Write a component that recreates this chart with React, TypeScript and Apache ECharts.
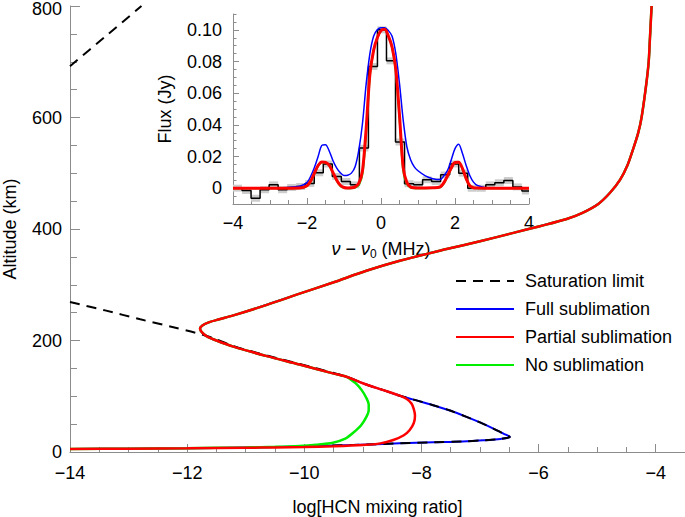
import { useEffect, useRef } from "react";
import * as echarts from "echarts";

const FONT = '"Liberation Sans", Arial, Helvetica, sans-serif';

// ---- main panel: [log HCN mixing ratio, altitude km] ----
const MAIN_X_TICKS = [-14, -12, -10, -8, -6, -4];
const MAIN_Y_TICKS = [0, 200, 400, 600, 800];

// part shared by all three profiles, from the junction at ~135 km upward
const SHARED_UPPER = [
    [-9.28, 135], [-9.51, 141], [-10.08, 157], [-10.64, 172], [-11.21, 189], [-11.5, 200],
    [-11.67, 208], [-11.75, 215], [-11.78, 221], [-11.74, 227], [-11.62, 233], [-11.45, 238],
    [-11.21, 245], [-10.64, 264], [-10.08, 284], [-9.51, 304], [-8.94, 325], [-8.37, 343],
    [-7.57, 364], [-7.0, 378], [-6.43, 393], [-5.98, 405], [-5.52, 418], [-5.25, 429],
    [-4.98, 445], [-4.78, 465], [-4.61, 488], [-4.48, 515], [-4.39, 542], [-4.3, 572],
    [-4.24, 601], [-4.16, 661], [-4.12, 700], [-4.1, 739], [-4.08, 780], [-4.07, 800],
];

const FULL_LOWER = [
    [-14, 5.4], [-13, 6], [-12, 6.8], [-11, 8], [-10, 9.8], [-9.17, 12.6], [-8.37, 15.6],
    [-7.8, 17.5], [-7.3, 19], [-6.95, 21], [-6.65, 23.5], [-6.49, 27], [-6.6, 33],
    [-6.78, 42.5], [-7.0, 53], [-7.23, 63], [-7.5, 74], [-7.8, 84], [-8.1, 93], [-8.37, 101],
    [-8.65, 111], [-8.94, 121],
];

const PARTIAL_LOWER = [
    [-14, 5.4], [-13, 6], [-12, 6.6], [-11, 7.6], [-10.5, 8.2], [-10, 9], [-9.5, 10.3],
    [-9.0, 12.5], [-8.7, 15.5], [-8.48, 21.5], [-8.3, 30], [-8.2, 39.5], [-8.13, 52],
    [-8.11, 65], [-8.13, 77], [-8.17, 87], [-8.25, 95], [-8.37, 101], [-8.65, 111], [-8.94, 121],
];

const NONE_LOWER = [
    [-14, 5.4], [-13, 6], [-12, 6.8], [-11, 8.2], [-10.5, 9.2], [-10.08, 10.8], [-9.8, 13],
    [-9.51, 16.7], [-9.3, 24], [-9.17, 34], [-9.03, 48], [-8.94, 63], [-8.9, 75], [-8.9, 85],
    [-8.94, 97], [-9.02, 111], [-9.12, 123], [-9.22, 131],
];

const SAT_LOW = [
    [-14, 269], [-13.4, 254], [-12.8, 238], [-12.2, 223], [-11.86, 214], [-11.6, 206],
    [-11.21, 190], [-10.64, 173], [-10.08, 158], [-9.51, 142], [-9.28, 135], [-8.94, 121],
    [-8.65, 111], [-8.37, 101], [-8.1, 93], [-7.8, 84], [-7.5, 74], [-7.23, 63], [-7.0, 53],
    [-6.78, 42.5], [-6.6, 33], [-6.49, 27], [-6.65, 23.5], [-6.95, 21], [-7.3, 19],
    [-7.8, 17.5], [-8.37, 15.6], [-9.17, 12.6], [-9.6, 11.2],
];
const SAT_HIGH = [[-14, 692], [-13.4, 745], [-12.78, 800]];

// ---- inset: spectrum ----
const INSET_X_TICKS = [-4, -2, 0, 2, 4];
const INSET_Y_TICKS = [0, 0.02, 0.04, 0.06, 0.08, 0.1];

const NU = [
    -4, -3.5, -3, -2.5, -2.2, -2, -1.9, -1.8, -1.7, -1.6, -1.5, -1.4, -1.3, -1.2, -1.1, -1,
    -0.9, -0.8, -0.7, -0.6, -0.5, -0.4, -0.3, -0.2, -0.1, 0, 0.1, 0.2, 0.3, 0.4, 0.5, 0.6,
    0.7, 0.8, 0.9, 1, 1.2, 1.4, 1.6, 1.7, 1.8, 1.9, 2, 2.1, 2.2, 2.3, 2.4, 2.5, 2.6, 2.8,
    3, 3.5, 4,
];
const MODEL_FULL = [
    0, 0, 0.0002, 0.0005, 0.0012, 0.0035, 0.0075, 0.013, 0.02, 0.027, 0.0275, 0.0235,
    0.0175, 0.0128, 0.0097, 0.008, 0.0082, 0.0095, 0.0135, 0.024, 0.041, 0.066, 0.085,
    0.096, 0.1, 0.1013, 0.1013, 0.0995, 0.096, 0.085, 0.066, 0.043, 0.026, 0.018, 0.0135,
    0.011, 0.0078, 0.006, 0.0054, 0.0078, 0.0112, 0.018, 0.025, 0.0278, 0.022, 0.0145,
    0.008, 0.0038, 0.0018, 0.0005, 0.0002, 0, 0,
];
const MODEL_PARTIAL = [
    0, 0, 0, 0, 0.0001, 0.0015, 0.0045, 0.0095, 0.0143, 0.0166, 0.0163, 0.0145, 0.01,
    0.0052, 0.0018, 0.0004, 0.0001, 0.0002, 0.0008, 0.003, 0.011, 0.038, 0.072, 0.087,
    0.095, 0.0995, 0.1003, 0.096, 0.089, 0.075, 0.046, 0.013, 0.0035, 0.0008, 0.0002,
    0.0001, 0.0001, 0.0002, 0.0008, 0.0035, 0.008, 0.0128, 0.0162, 0.0163, 0.0125, 0.0062,
    0.0015, 0.0003, 0.0001, 0, 0, 0, 0,
];
const MODEL_NONE = [
    0, 0, 0, 0, 0.0001, 0.0013, 0.0042, 0.0092, 0.014, 0.0164, 0.0162, 0.0143, 0.0097,
    0.0048, 0.0014, 0.0002, 0, 0, 0.0004, 0.002, 0.009, 0.036, 0.071, 0.087, 0.095,
    0.0995, 0.1003, 0.096, 0.089, 0.074, 0.044, 0.011, 0.0025, 0.0004, 0, 0, 0, 0.0001,
    0.0006, 0.003, 0.0075, 0.0125, 0.016, 0.0161, 0.0122, 0.0058, 0.0012, 0.0002, 0, 0,
    0, 0, 0,
];

// observed channels (edges in MHz) and flux (Jy)
const OBS_EDGES = [
    -4.0, -3.756, -3.512, -3.268, -3.024, -2.78, -2.536, -2.292, -2.048, -1.804, -1.56,
    -1.316, -1.072, -0.828, -0.584, -0.34, -0.096, 0.148, 0.392, 0.636, 0.88, 1.124, 1.368,
    1.612, 1.856, 2.1, 2.344, 2.588, 2.832, 3.076, 3.32, 3.564, 3.808, 4.0,
];
const OBS_FLUX = [
    0, -0.0015, -0.0063, -0.001, 0.0021, -0.001, 0.0004, 0.001, 0.003, 0.0097, 0.0152,
    0.0074, 0.0042, 0.0021, 0.0253, 0.0769, 0.1, 0.0804, 0.0292, 0.0028, 0.0021, 0.0053,
    0.0042, 0.0084, 0.0153, 0.0095, 0, 0, 0.0021, 0.0034, 0.0048, 0.0008, -0.0018,
];
const OBS_ERR = 0.0022;

const minorRange = (a: number, b: number, step: number) => {
    const out: number[] = [];
    for (let v = a; v <= b + 1e-9; v += step) out.push(+v.toFixed(4));
    return out;
};

const minus = (v: number) => String(v).replace("-", "\u2212");

export default function App() {
    const chartRef = useRef<HTMLDivElement | null>(null);

    useEffect(() => {
        if (!chartRef.current) return;
        const chart = echarts.init(chartRef.current, undefined, { renderer: "svg" });

        const gray = "#8c8c8c";
        const label = { fontSize: 18, color: "#000", fontFamily: FONT };
        const axisLine = { show: true, onZero: false, lineStyle: { color: gray, width: 1 } };
        const noLine = { show: false, onZero: false };

        const major = (gridIndex: number, min: number, max: number, ticks: number[], len: number, extra: any) => ({
            gridIndex,
            type: "value",
            min,
            max,
            axisLine,
            axisTick: { inside: true, length: len, customValues: ticks, lineStyle: { color: gray } },
            splitLine: { show: false },
            ...extra,
        });
        const minor = (gridIndex: number, min: number, max: number, ticks: number[], len: number, position: string) => ({
            gridIndex,
            type: "value",
            min,
            max,
            position,
            axisLine: noLine,
            axisTick: { inside: true, length: len, customValues: ticks, lineStyle: { color: gray } },
            axisLabel: { show: false },
            splitLine: { show: false },
        });

        const stepData: number[][] = [];
        OBS_FLUX.forEach((v, i) => {
            stepData.push([OBS_EDGES[i], v], [OBS_EDGES[i + 1], v]);
        });
        const bandData = OBS_FLUX.map((v, i) => [OBS_EDGES[i], OBS_EDGES[i + 1], v]);

        const curve = (name: string, data: number[][], color: string, width: number, x: number, y: number, dashed = false) => ({
            name,
            type: "line",
            xAxisIndex: x,
            yAxisIndex: y,
            data,
            symbol: "none",
            smooth: 0.3,
            silent: true,
            lineStyle: { color, width, type: dashed ? [10, 7] : "solid" },
            itemStyle: { color },
        });

        const model = (arr: number[]) => NU.map((v, i) => [v, arr[i]]);

        chart.setOption({
            animation: false,
            backgroundColor: "#fff",
            textStyle: { fontFamily: FONT },
            grid: [
                { left: 70, top: 6, width: 615, height: 446, outerBoundsMode: "none", containLabel: false },
                { left: 233, top: 14, width: 296, height: 190, outerBoundsMode: "none", containLabel: false },
            ],
            legend: {
                data: ["Saturation limit", "Full sublimation", "Partial sublimation", "No sublimation"],
                orient: "vertical",
                left: 455,
                top: 272,
                padding: 0,
                itemWidth: 58,
                itemHeight: 14,
                itemGap: 10,
                selectedMode: false,
                itemStyle: { opacity: 0 },
                textStyle: { ...label, lineHeight: 14, padding: [0, 0, 0, 6] },
            },
            xAxis: [
                major(0, -14, -3.5, MAIN_X_TICKS, 8, {
                    position: "bottom",
                    axisLabel: { ...label, customValues: MAIN_X_TICKS, margin: 12, formatter: minus },
                    name: "log[HCN mixing ratio]",
                    nameLocation: "middle",
                    nameGap: 46,
                    nameTextStyle: label,
                }),
                minor(0, -14, -3.5, minorRange(-14, -3.5, 0.5), 5, "bottom"),
                major(1, -4, 4, INSET_X_TICKS, 6, {
                    position: "bottom",
                    axisLabel: { ...label, customValues: INSET_X_TICKS, margin: 10, formatter: minus },
                    name: "{i|\u03bd} \u2212 {i|\u03bd}{s|0} (MHz)",
                    nameLocation: "middle",
                    nameGap: 34,
                    nameTextStyle: {
                        ...label,
                        lineHeight: 22,
                        rich: {
                            i: { fontSize: 18, fontStyle: "italic", lineHeight: 22, fontFamily: FONT, color: "#000" },
                            s: { fontSize: 12, lineHeight: 12, verticalAlign: "bottom", fontFamily: FONT, color: "#000" },
                        },
                    },
                }),
                minor(1, -4, 4, minorRange(-4, 4, 0.5), 4, "bottom"),
            ],
            yAxis: [
                major(0, 0, 800, MAIN_Y_TICKS, 10, {
                    position: "left",
                    axisLabel: {
                        ...label,
                        customValues: MAIN_Y_TICKS,
                        margin: 8,
                        formatter: (v: number) => (v === 800 ? "{top|800}" : String(v)),
                        rich: { top: { ...label, padding: [5, 0, 0, 0] } },
                    },
                    name: "Altitude (km)",
                    nameLocation: "middle",
                    nameGap: 51,
                    nameTextStyle: label,
                }),
                minor(0, 0, 800, minorRange(0, 800, 50), 7, "left"),
                major(1, -0.01, 0.11, INSET_Y_TICKS, 6, {
                    position: "left",
                    axisLabel: {
                        ...label,
                        customValues: INSET_Y_TICKS,
                        margin: 11,
                        formatter: (v: number) => (v === 0 ? "0" : v.toFixed(2)),
                    },
                    name: "Flux (Jy)",
                    nameLocation: "middle",
                    nameGap: 59,
                    nameTextStyle: label,
                }),
                minor(1, -0.01, 0.11, minorRange(-0.01, 0.11, 0.005), 3.5, "left"),
            ],
            series: [
                curve("Full sublimation", [...FULL_LOWER, ...SHARED_UPPER], "#0000ff", 2, 0, 0),
                curve("No sublimation", [...NONE_LOWER, ...SHARED_UPPER], "#00ee00", 2.5, 0, 0),
                curve("Saturation limit", SAT_LOW, "#000000", 2, 0, 0, true),
                curve("Saturation limit", SAT_HIGH, "#000000", 2, 0, 0, true),
                curve("Partial sublimation", [...PARTIAL_LOWER, ...SHARED_UPPER], "#ff0000", 2.5, 0, 0),
                {
                    name: "obs-error",
                    type: "custom",
                    xAxisIndex: 2,
                    yAxisIndex: 2,
                    silent: true,
                    data: bandData,
                    encode: { x: [0, 1], y: 2 },
                    renderItem: (_p: any, api: any) => {
                        const a = api.coord([api.value(0), api.value(2) + OBS_ERR]);
                        const b = api.coord([api.value(1), api.value(2) - OBS_ERR]);
                        return {
                            type: "rect",
                            shape: { x: a[0], y: a[1], width: b[0] - a[0], height: b[1] - a[1] },
                            style: { fill: "#cdcdcd" },
                        };
                    },
                },
                {
                    name: "obs",
                    type: "line",
                    xAxisIndex: 2,
                    yAxisIndex: 2,
                    data: stepData,
                    symbol: "none",
                    silent: true,
                    lineStyle: { color: "#000", width: 1.5 },
                },
                curve("model-full", model(MODEL_FULL), "#0000ff", 1.5, 2, 2),
                curve("model-none", model(MODEL_NONE), "#00ee00", 2, 2, 2),
                curve("model-partial", model(MODEL_PARTIAL), "#ff0000", 3, 2, 2),
            ],
        });

        return () => chart.dispose();
    }, []);

    return (
        <div
            ref={chartRef}
            style={{ position: "fixed", left: 0, top: 0, width: 685, height: 517, background: "#fff" }}
        />
    );
}
